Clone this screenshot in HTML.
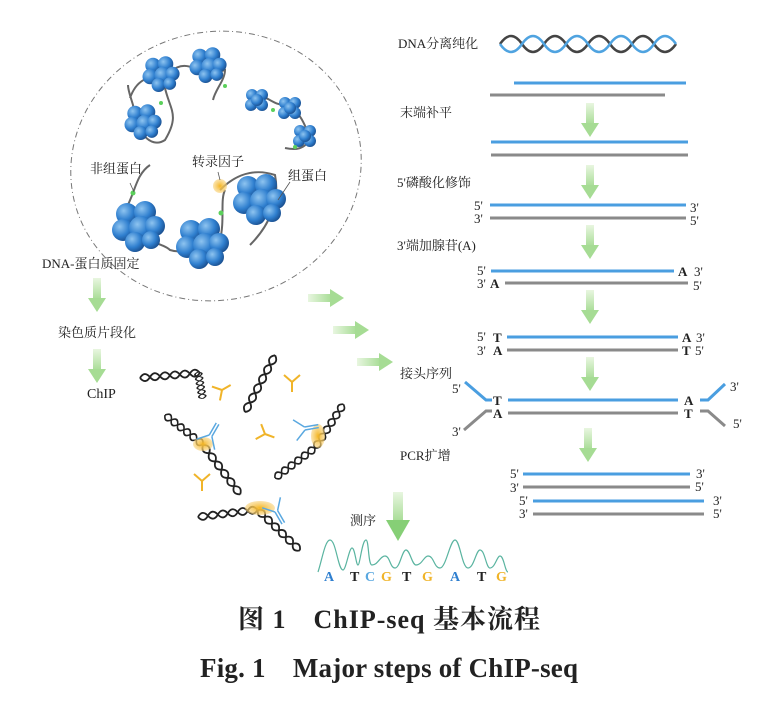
<!DOCTYPE html>
<html><head><meta charset="utf-8"><style>
html,body{margin:0;padding:0;background:#fff;}
svg{display:block;}
text{font-family:"Liberation Serif","Noto Serif CJK SC",serif;fill:#222;}
.l{font-size:13px;}
</style></head><body>
<svg width="769" height="704" viewBox="0 0 769 704" xmlns="http://www.w3.org/2000/svg">
<defs>
<radialGradient id="nb" cx="0.35" cy="0.35" r="0.7">
<stop offset="0" stop-color="#8ec4f0"/><stop offset="0.6" stop-color="#2f7fcf"/><stop offset="1" stop-color="#1a4f8f"/>
</radialGradient>
<linearGradient id="ga" x1="0" y1="0" x2="0" y2="1"><stop offset="0" stop-color="#e8f6e0"/><stop offset="1" stop-color="#a6dc94"/></linearGradient>
<linearGradient id="gh" x1="0" y1="0" x2="1" y2="0"><stop offset="0" stop-color="#e8f6e0"/><stop offset="1" stop-color="#a6dc94"/></linearGradient>
<radialGradient id="tf" cx="0.5" cy="0.5" r="0.5"><stop offset="0" stop-color="#f5b623"/><stop offset="1" stop-color="#f8d27a" stop-opacity="0.6"/></radialGradient>
<g id="arr"><rect x="-4" y="0" width="8" height="22" fill="url(#ga)"/><polygon points="-9,20 9,20 0,34" fill="#a6dc94"/></g>
<g id="harr"><rect x="0" y="-4" width="24" height="8" fill="url(#gh)"/><polygon points="22,-9 22,9 36,0" fill="#a6dc94"/></g>
<g id="clL">
<circle cx="-10" cy="-8" r="11" fill="url(#nb)"/><circle cx="8" cy="-10" r="11" fill="url(#nb)"/>
<circle cx="-14" cy="8" r="11" fill="url(#nb)"/><circle cx="4" cy="6" r="12" fill="url(#nb)"/>
<circle cx="18" cy="4" r="10" fill="url(#nb)"/><circle cx="-2" cy="20" r="10" fill="url(#nb)"/>
<circle cx="14" cy="18" r="9" fill="url(#nb)"/>
</g>
<g id="clS">
<circle cx="-5" cy="-5" r="6" fill="url(#nb)"/><circle cx="5" cy="-5" r="6" fill="url(#nb)"/>
<circle cx="-6" cy="5" r="6" fill="url(#nb)"/><circle cx="5" cy="5" r="6" fill="url(#nb)"/><circle cx="0" cy="0" r="6" fill="url(#nb)"/>
</g>
<g id="hx" fill="none" stroke="#222" stroke-width="1.8">
<path d="M0,0 q5,-7 10,0 t10,0 t10,0 t10,0 t10,0 t10,0"/>
<path d="M0,0 q5,7 10,0 t10,0 t10,0 t10,0 t10,0 t10,0"/>
</g>
<g id="ab" stroke="#f0b429" stroke-width="2" fill="none"><path d="M0,0 L0,10 M0,0 L-8,-7 M0,0 L8,-7"/></g>
<g id="abB" stroke="#5aa8e0" stroke-width="1.5" fill="none"><path d="M0,0 L0,14 M3,0 L3,14 M0,0 L-9,-10 M3,0 L12,-10"/></g>
</defs>

<ellipse cx="216" cy="166" rx="146" ry="134" fill="none" stroke="#777" stroke-width="1" stroke-dasharray="6,3,1,3" transform="rotate(-15 216 166)"/>

<g fill="none" stroke="#666" stroke-width="2">
<path d="M130,98 C140,70 160,80 170,72 C190,55 200,80 225,70 C225,80 215,90 213,100"/>
<path d="M165,88 C170,110 180,115 165,140 C150,150 135,130 133,105 C130,95 128,90 128,85"/>
<path d="M250,100 C265,90 270,105 285,105 C300,110 305,125 310,138 C305,150 295,150 285,148"/>
<path d="M150,165 C135,175 135,195 125,210 C120,240 160,240 170,250 C185,255 200,245 220,240 C225,220 220,200 225,190"/>
<path d="M220,190 C240,170 260,170 275,175 C280,200 270,225 250,245"/>
</g>
<use href="#clL" transform="translate(160 71) scale(0.7)"/>
<use href="#clL" transform="translate(207 62) scale(0.7)"/>
<use href="#clL" transform="translate(142 119) scale(0.7)"/>
<use href="#clS" x="257" y="100"/>
<use href="#clS" x="290" y="108"/>
<use href="#clS" x="305" y="136"/>
<use href="#clL" transform="translate(137 222)"/>
<use href="#clL" transform="translate(201 239)"/>
<use href="#clL" transform="translate(258 195)"/>
<circle cx="220" cy="186" r="7" fill="url(#tf)"/>
<g fill="#5bd05b"><circle cx="133" cy="193" r="2.5"/><circle cx="221" cy="213" r="2.5"/><circle cx="161" cy="103" r="2"/><circle cx="225" cy="86" r="2"/><circle cx="273" cy="110" r="2"/><circle cx="295" cy="147" r="2"/></g>
<g stroke="#555" stroke-width="0.8"><line x1="130" y1="183" x2="134" y2="192"/><line x1="218" y1="172" x2="220" y2="180"/><line x1="290" y1="182" x2="278" y2="200"/></g>

<text class="l" x="90" y="173">非组蛋白</text>
<text class="l" x="192" y="166">转录因子</text>
<text class="l" x="288" y="180">组蛋白</text>
<text class="l" x="42" y="268">DNA-蛋白质固定</text>
<text class="l" x="58" y="337">染色质片段化</text>
<text class="l" x="87" y="398" style="font-size:14px">ChIP</text>
<use href="#arr" x="97" y="278"/>
<use href="#arr" x="97" y="349"/>
<use href="#harr" x="308" y="298"/>
<use href="#harr" x="333" y="330"/>
<use href="#harr" x="357" y="362"/>

<use href="#hx" transform="translate(140 378) rotate(-5)"/>
<use href="#hx" transform="translate(198 372) rotate(80) scale(0.45 1)"/>
<use href="#hx" transform="translate(245 412) rotate(-62) scale(1.07 1)"/>
<use href="#hx" transform="translate(165 415) rotate(38) scale(0.8 1)"/>
<use href="#hx" transform="translate(203 445) rotate(53) scale(1.03 1)"/>
<use href="#hx" transform="translate(275 478) rotate(-37) scale(0.83 1)"/>
<use href="#hx" transform="translate(315 448) rotate(-57) scale(0.87 1)"/>
<use href="#hx" transform="translate(198 517) rotate(-7)"/>
<use href="#hx" transform="translate(258 510) rotate(44) scale(0.97 1)"/>
<ellipse cx="203" cy="444" rx="10" ry="7" fill="url(#tf)"/>
<ellipse cx="318" cy="436" rx="7" ry="12" fill="url(#tf)"/>
<ellipse cx="260" cy="508" rx="15" ry="7" fill="url(#tf)"/>
<use href="#abB" x="210" y="436" transform="rotate(-150 211 436)"/>
<use href="#abB" x="305" y="430" transform="rotate(-100 305 430)"/>
<use href="#abB" x="275" y="512" transform="rotate(-30 275 512)"/>
<use href="#ab" transform="translate(222 390) rotate(-120)"/>
<use href="#ab" x="292" y="382"/>
<use href="#ab" transform="translate(265 434) rotate(-70)"/>
<use href="#ab" x="202" y="481"/>

<text class="l" x="350" y="525">测序</text>
<rect x="393" y="492" width="10" height="30" fill="url(#ga)"/>
<polygon points="386,520 410,520 398,541" fill="#86cf76"/>
<path d="M318,572 C322,560 325,540 330,540 C336,540 338,570 343,570 C346,570 349,548 352,548 C355,548 356,565 358,565 C360,565 362,540 366,540 C369,540 368,565 372,565 C378,565 380,556 385,556 C390,556 390,568 395,568 C400,568 402,550 406,550 C410,550 412,565 416,565 C422,565 424,556 428,556 C434,556 434,568 440,568 C446,568 450,540 455,540 C460,540 462,568 468,568 C474,568 476,550 480,550 C485,550 486,568 490,568 C495,568 497,556 500,556 C504,556 505,572 508,572" fill="none" stroke="#5ab4a0" stroke-width="1.2"/>
<g style="font-size:14px;font-weight:bold">
<text x="324" y="581" style="fill:#2f7fcf">A</text>
<text x="350" y="581">T</text>
<text x="365" y="581" style="fill:#5aa8e0">C</text>
<text x="381" y="581" style="fill:#f0b429">G</text>
<text x="402" y="581">T</text>
<text x="422" y="581" style="fill:#f0b429">G</text>
<text x="450" y="581" style="fill:#2f7fcf">A</text>
<text x="477" y="581">T</text>
<text x="496" y="581" style="fill:#f0b429">G</text>
</g>

<text class="l" x="398" y="48">DNA分离纯化</text>
<g fill="none" stroke-width="2.5">
<path d="M500,44 q11,-16 22,0 t22,0 t22,0 t22,0 t22,0 t22,0 t22,0 t22,0" stroke="#444"/>
<path d="M500,44 q11,16 22,0 t22,0 t22,0 t22,0 t22,0 t22,0 t22,0 t22,0" stroke="#4fa3e0"/>
</g>
<g stroke-width="3">
<line x1="514" y1="83" x2="686" y2="83" stroke="#4a9ee0"/>
<line x1="490" y1="95" x2="665" y2="95" stroke="#8a8a8a"/>
<line x1="491" y1="142" x2="688" y2="142" stroke="#4a9ee0"/>
<line x1="491" y1="155" x2="688" y2="155" stroke="#8a8a8a"/>
<line x1="490" y1="205" x2="686" y2="205" stroke="#4a9ee0"/>
<line x1="490" y1="218" x2="686" y2="218" stroke="#8a8a8a"/>
<line x1="491" y1="271" x2="674" y2="271" stroke="#4a9ee0"/>
<line x1="505" y1="283" x2="688" y2="283" stroke="#8a8a8a"/>
<line x1="507" y1="337" x2="678" y2="337" stroke="#4a9ee0"/>
<line x1="507" y1="350" x2="678" y2="350" stroke="#8a8a8a"/>
<line x1="508" y1="400" x2="678" y2="400" stroke="#4a9ee0"/>
<line x1="508" y1="413" x2="678" y2="413" stroke="#8a8a8a"/>
<polyline points="465,382 486,400 492,400" fill="none" stroke="#4a9ee0"/>
<polyline points="464,430 486,411 492,411" fill="none" stroke="#8a8a8a"/>
<polyline points="700,400 708,400 725,384" fill="none" stroke="#4a9ee0"/>
<polyline points="700,411 708,411 725,426" fill="none" stroke="#8a8a8a"/>
<line x1="523" y1="474" x2="690" y2="474" stroke="#4a9ee0"/>
<line x1="523" y1="487" x2="690" y2="487" stroke="#8a8a8a"/>
<line x1="533" y1="501" x2="704" y2="501" stroke="#4a9ee0"/>
<line x1="533" y1="514" x2="704" y2="514" stroke="#8a8a8a"/>
</g>
<use href="#arr" x="590" y="103"/>
<use href="#arr" x="590" y="165"/>
<use href="#arr" x="590" y="225"/>
<use href="#arr" x="590" y="290"/>
<use href="#arr" x="590" y="357"/>
<use href="#arr" x="588" y="428"/>
<text class="l" x="400" y="117">末端补平</text>
<text class="l" x="397" y="187">5'磷酸化修饰</text>
<text class="l" x="397" y="250">3'端加腺苷(A)</text>
<text class="l" x="400" y="378">接头序列</text>
<text class="l" x="400" y="460">PCR扩增</text>
<g class="l">
<text x="474" y="210">5'</text><text x="690" y="212">3'</text>
<text x="474" y="223">3'</text><text x="690" y="225">5'</text>
<text x="477" y="275">5'</text><text x="694" y="276">3'</text>
<text x="477" y="288">3'</text><text x="693" y="290">5'</text>
<text x="477" y="341">5'</text><text x="696" y="342">3'</text>
<text x="477" y="355">3'</text><text x="695" y="355">5'</text>
<text x="452" y="393">5'</text><text x="730" y="391">3'</text>
<text x="452" y="436">3'</text><text x="733" y="428">5'</text>
<text x="510" y="478">5'</text><text x="696" y="478">3'</text>
<text x="510" y="492">3'</text><text x="695" y="491">5'</text>
<text x="519" y="505">5'</text><text x="713" y="505">3'</text>
<text x="519" y="518">3'</text><text x="713" y="518">5'</text>
</g>
<g style="font-size:13px;font-weight:bold">
<text x="678" y="276">A</text><text x="490" y="288">A</text>
<text x="493" y="342">T</text><text x="682" y="342">A</text>
<text x="493" y="355">A</text><text x="682" y="355">T</text>
<text x="493" y="405">T</text><text x="684" y="405">A</text>
<text x="493" y="418">A</text><text x="684" y="418">T</text>
</g>

<text x="238" y="628" textLength="302" style="font-size:26px;font-weight:bold">图 1　ChIP-seq 基本流程</text>
<text x="200" y="677" textLength="378" style="font-size:27px;font-weight:bold">Fig. 1　Major steps of ChIP-seq</text>
</svg>
</body></html>
